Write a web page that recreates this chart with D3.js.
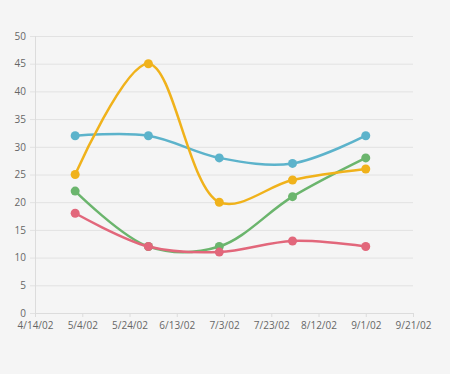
<html>
  <head>
    <meta charset="UTF-8">
    <script src="https://unpkg.com/d3@7/dist/d3.min.js"></script>
    <style>
      body { margin: 0; background: #f5f5f5; }
      text { font-family: "Open Sans", "DejaVu Sans", sans-serif; }
    </style>
  </head>
  <body>
    <script type="text/javascript">

      // data
      var dates = ["2002-05-01", "2002-06-01", "2002-07-01", "2002-08-01", "2002-09-01"];
      var blue = [32, 32, 28, 27, 32];
      var green = [22, 12, 12, 21, 28];
      var red = [18, 12, 11, 13, 12];
      var yellow = [25, 45, 20, 24, 26];
      var xTicks = ["2002-04-14", "2002-05-04", "2002-05-24", "2002-06-13", "2002-07-03",
                    "2002-07-23", "2002-08-12", "2002-09-01", "2002-09-21"];
      var yTicks = [0, 5, 10, 15, 20, 25, 30, 35, 40, 45, 50];

      var width = 450;
      var height = 374;

      var svg = d3.select('body')
                  .append('svg')
                  .attr('width', width)
                  .attr('height', height);

      var parse = d3.utcParse("%Y-%m-%d");
      var fmt = d3.utcFormat("%-m/%-d/%y");

      var x = d3.scaleUtc()
          .domain([parse(xTicks[0]), parse(xTicks[xTicks.length - 1])])
          .range([35, 413]);

      var y = d3.scaleLinear()
          .domain([0, 50])
          .range([313, 36]);

      // horizontal grid + y labels
      var yAxis = d3.axisLeft(y)
          .tickValues(yTicks)
          .tickSize(-(413 - 30))
          .tickPadding(4);

      var gy = svg.append('g')
          .attr('transform', 'translate(30,0)')
          .call(yAxis);
      gy.select('.domain').remove();
      gy.selectAll('line').attr('stroke', '#e2e2e2');
      gy.selectAll('text').attr('fill', '#666').attr('font-size', '10px');

      // vertical axis line
      svg.append('line')
          .attr('x1', 35.5).attr('x2', 35.5)
          .attr('y1', y(50)).attr('y2', y(0))
          .attr('stroke', '#dcdcdc');

      // x axis
      var xAxis = d3.axisBottom(x)
          .tickValues(xTicks.map(parse))
          .tickFormat(fmt)
          .tickSize(4)
          .tickPadding(5);

      var gx = svg.append('g')
          .attr('transform', 'translate(0,' + y(0) + ')')
          .call(xAxis);
      gx.select('.domain').attr('stroke', '#dcdcdc');
      gx.selectAll('line').attr('stroke', '#dcdcdc');
      gx.selectAll('text').attr('fill', '#666').attr('font-size', '10px');

      var series = [
        {values: blue, color: '#5cb3cb'},
        {values: green, color: '#6bb56d'},
        {values: red, color: '#e2677b'},
        {values: yellow, color: '#f0b21b'}
      ];

      var line = d3.line()
          .x(function(d, i){ return x(parse(dates[i])); })
          .y(function(d){ return y(d); })
          .curve(d3.curveCatmullRom.alpha(0.5));

      series.forEach(function(s){
        var g = svg.append('g');
        g.append('path')
            .attr('d', line(s.values))
            .attr('fill', 'none')
            .attr('stroke', s.color)
            .attr('stroke-width', 2.5);
        g.selectAll('circle')
            .data(s.values)
            .enter()
            .append('circle')
            .attr('cx', function(d, i){ return x(parse(dates[i])); })
            .attr('cy', function(d){ return y(d); })
            .attr('r', 4.5)
            .attr('fill', s.color);
      });

    </script>
  </body>
</html>
